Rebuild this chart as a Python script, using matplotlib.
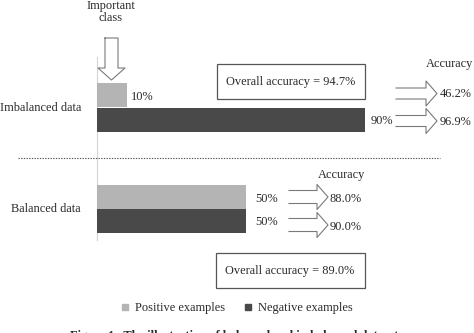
import matplotlib
matplotlib.use("Agg")
import matplotlib.pyplot as plt
from matplotlib.patches import Rectangle
from matplotlib.lines import Line2D

plt.rcParams['font.family'] = ['Liberation Serif', 'DejaVu Serif']

# ---- data ----
groups = ["Imbalanced data", "Balanced data"]
positive_share = [10, 50]      # % positive examples
negative_share = [90, 50]      # % negative examples
positive_acc = ["46.2%", "88.0%"]
negative_acc = ["96.9%", "90.0%"]
overall_acc = ["94.7%", "89.0%"]
legend_labels = ["Positive examples", "Negative examples"]

POS_C = "#b4b4b4"
NEG_C = "#494949"
ARROW_C = "#7a7a7a"
TXT_C = "#2a2a2a"

W, H = 474, 333
fig = plt.figure(figsize=(W / 100, H / 100), dpi=100)

# overlay axes in pixel coordinates for annotations
ax = fig.add_axes([0, 0, 1, 1])
ax.set_xlim(0, W)
ax.set_ylim(H, 0)
ax.axis("off")

# bar axes: x in percent (0..100 spans 298 px starting at px 97)
x0_px, pct_px = 97, 2.98
top_px, bot_px = 57, 240
bax = fig.add_axes([x0_px / W, (H - bot_px) / H, 100 * pct_px / W, (bot_px - top_px) / H])
bax.set_xlim(0, 100)
bax.set_ylim(bot_px, top_px)
bax.axis("off")
bax.patch.set_alpha(0)

# vertical axis line
ax.plot([x0_px, x0_px], [top_px, bot_px], color="#d4d4d4", lw=0.8)

pos_y = [95, 197]
neg_y = [120, 221]
bh = 24.5
bax.barh(pos_y, positive_share, height=bh, color=POS_C, left=0)
bax.barh(neg_y, negative_share, height=bh, color=NEG_C, left=0)

fs = 8.9
# group labels
ax.text(41, 108, groups[0], ha="center", va="center", fontsize=fs, color=TXT_C)
ax.text(46, 209, groups[1], ha="center", va="center", fontsize=fs, color=TXT_C)

# percent labels
for i in range(2):
    px = x0_px + positive_share[i] * pct_px
    nx = x0_px + negative_share[i] * pct_px
    ax.text(px + (4 if i == 0 else 9), pos_y[i] + 2, f"{positive_share[i]}%",
            ha="left", va="center", fontsize=fs, color=TXT_C)
    ax.text(nx + (5 if i == 0 else 9), neg_y[i] + 1, f"{negative_share[i]}%",
            ha="left", va="center", fontsize=fs, color=TXT_C)

# dotted separator
ax.plot([18, 440], [158, 158], color="#555555", lw=0.8, ls=(0, (1.2, 1.2)))


def right_arrow(xs, xh, xt, yc, h, hh):
    xsx = [xs, xh, xh, xt, xh, xh, xs]
    ysx = [yc - h, yc - h, yc - hh, yc, yc + hh, yc + h, yc + h]
    ax.add_line(Line2D(xsx, ysx, color=ARROW_C, lw=0.8))


# imbalanced arrows
right_arrow(396, 426, 437, 93.5, 5.5, 12.5)
right_arrow(396, 426, 437, 121, 5.5, 12.5)
ax.text(440, 94, positive_acc[0], ha="left", va="center", fontsize=fs, color=TXT_C)
ax.text(440, 122, negative_acc[0], ha="left", va="center", fontsize=fs, color=TXT_C)
ax.text(450, 64, "Accuracy", ha="center", va="center", fontsize=fs, color=TXT_C)

# balanced arrows
right_arrow(289, 317, 328, 197, 6.5, 12.5)
right_arrow(289, 317, 328, 225, 6.5, 12.5)
ax.text(330, 199, positive_acc[1], ha="left", va="center", fontsize=fs, color=TXT_C)
ax.text(330, 227, negative_acc[1], ha="left", va="center", fontsize=fs, color=TXT_C)
ax.text(342, 175, "Accuracy", ha="center", va="center", fontsize=fs, color=TXT_C)

# overall accuracy boxes
ax.add_patch(Rectangle((217, 64), 148, 35, fill=False, ec="#555555", lw=0.9))
ax.text(290.5, 82, f"Overall accuracy = {overall_acc[0]}", ha="center", va="center",
        fontsize=fs, color=TXT_C)
ax.add_patch(Rectangle((216, 253), 149, 35, fill=False, ec="#555555", lw=0.9))
ax.text(290, 271, f"Overall accuracy = {overall_acc[1]}", ha="center", va="center",
        fontsize=fs, color=TXT_C)

# important class down arrow
ax.add_line(Line2D([105, 105, 98, 111.5, 125, 118, 118, 105],
                   [38, 68, 68, 80, 68, 68, 38, 38], color=ARROW_C, lw=0.8))
ax.text(111, 6, "Important", ha="center", va="center", fontsize=fs, color=TXT_C)
ax.text(111, 18, "class", ha="center", va="center", fontsize=fs, color=TXT_C)

# legend
ax.add_patch(Rectangle((122, 304), 6, 6, color=POS_C))
ax.text(135, 307.5, legend_labels[0], ha="left", va="center", fontsize=fs, color=TXT_C)
ax.add_patch(Rectangle((245, 304), 6, 6, color=NEG_C))
ax.text(258, 307.5, legend_labels[1], ha="left", va="center", fontsize=fs, color=TXT_C)

# caption (cut off at bottom as in the reference)
ax.text(237, 339, "Figure 1.  The illustration of balanced and imbalanced datasets",
        ha="center", va="baseline", fontsize=fs, fontweight="bold", color=TXT_C)

fig.savefig("out.png", dpi=100)
